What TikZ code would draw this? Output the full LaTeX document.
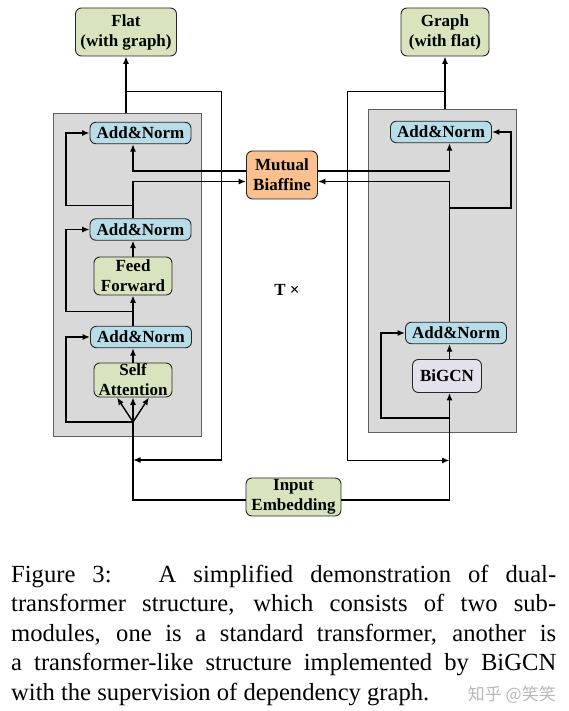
\documentclass[tikz,border=0pt]{standalone}
\usepackage{fontspec}
\setmainfont{Liberation Serif}
\newfontfamily\cjk{Noto Sans CJK SC}
\usetikzlibrary{arrows.meta}
\definecolor{nodegreen}{HTML}{D7E4BD}
\definecolor{nodeblue}{HTML}{B7DEE8}
\definecolor{nodeorange}{HTML}{FAC090}
\definecolor{nodepurple}{HTML}{E6E0EC}
\definecolor{panelgray}{HTML}{D9D9D9}
\definecolor{panelline}{HTML}{5F5F5F}
\begin{document}
\begin{tikzpicture}[x=1pt,y=-1pt,
  box/.style={draw=black!85, line width=0.9pt, rounded corners=6pt, inner sep=0pt, align=center,
    font=\bfseries\fontsize{17pt}{20pt}\selectfont},
  greenbox/.style={box, fill=nodegreen},
  anbox/.style={box, fill=nodeblue, minimum width=101pt, minimum height=21.5pt},
  panel/.style={draw=panelline, line width=1pt, fill=panelgray, inner sep=0pt},
  line/.style={line width=1.4pt, black},
  arr/.style={line, -{Latex[length=7.5pt,width=6pt]}}
]
\useasboundingbox (0,0) rectangle (568,711);

% panels
\node[panel, minimum width=148pt, minimum height=322pt] (lpanel) at (127,275) {};
\node[panel, minimum width=148pt, minimum height=322pt] (rpanel) at (442,271) {};

% outputs
\node[greenbox, minimum width=101pt, minimum height=48pt] (flat) at (126,32) {Flat\\(with graph)};
\node[greenbox, minimum width=88pt, minimum height=48pt] (graph) at (445,32) {Graph\\(with flat)};

% left column
\node[anbox] (an1) at (140.5,133) {Add\&Norm};
\node[anbox] (an2) at (140.5,229.5) {Add\&Norm};
\node[greenbox, minimum width=78pt, minimum height=38pt] (ff) at (133,276) {Feed\\Forward};
\node[anbox] (an3) at (141,337) {Add\&Norm};
\node[greenbox, minimum width=78pt, minimum height=34pt] (sa) at (133,380) {Self\\Attention};

% middle
\node[box, fill=nodeorange, minimum width=71pt, minimum height=48pt] (bia) at (282,175) {Mutual\\Biaffine};
\node[font=\bfseries\fontsize{17pt}{20pt}\selectfont, inner sep=0pt] (tx) at (287,290) {T ×};
\node[greenbox, minimum width=95pt, minimum height=38pt] (emb) at (293.5,497) {Input\\Embedding};

% right column
\node[anbox] (ran1) at (441,132) {Add\&Norm};
\node[anbox] (ran2) at (456,333) {Add\&Norm};
\node[box, fill=nodepurple, minimum width=69pt, minimum height=33pt] (bigcn) at (447,376) {BiGCN};

% helper coordinates
\coordinate (fan) at (133,422);
\coordinate (resL) at (66,0);
\coordinate (r2) at (133,311.5);
\coordinate (r1) at (133,205.5);
\coordinate (loopL) at (221.5,91.5);
\coordinate (loopLb) at (221.5,460);
\coordinate (spineR) at (449.5,0);
\coordinate (resR) at (381,0);
\coordinate (resR2) at (511,0);
\coordinate (r3) at (449.5,418);
\coordinate (r4) at (449.5,208);
\coordinate (loopR) at (347.5,91.5);
\coordinate (loopRb) at (347.5,460.5);

% ---- left connectors
\draw[line] ([yshift=-3pt]emb.west) -| (fan);
\draw[arr] (fan) -- ([xshift=-16pt]sa.south);
\draw[arr] (fan) -- (sa.south);
\draw[arr] (fan) -- ([xshift=16pt]sa.south);
\draw[arr] (fan) -- (fan -| resL) |- (an3.west);
\draw[arr] (sa.north) -- (an3.south -| sa.north);
\draw[arr] (an3.north -| fan) -- (ff.south);
\draw[arr] (r2) -- (r2 -| resL) |- (an2.west);
\draw[arr] (ff.north) -- (an2.south -| ff.north);
\draw[arr] (an2.north -| fan) |- ([yshift=-6.5pt]bia.west);
\draw[arr] (r1) -- (r1 -| resL) |- (an1.west);
\draw[arr] ([yshift=4pt]bia.west) -| (an1.south -| fan);
\draw[arr] (flat.south |- lpanel.north) -- (flat.south);
\draw[arr] (flat.south |- loopL) -- (loopL) -- (loopLb) -- (loopLb -| fan);

% ---- right connectors
\draw[arr] ([yshift=-3pt]emb.east) -| (bigcn.south -| spineR);
\draw[arr] (r3) -- (r3 -| resR) |- (ran2.west);
\draw[arr] (bigcn.north -| spineR) -- (ran2.south -| spineR);
\draw[arr] (ran2.north -| spineR) |- ([yshift=-6.5pt]bia.east);
\draw[arr] (r4) -- (r4 -| resR2) |- (ran1.east);
\draw[arr] ([yshift=4pt]bia.east) -| (ran1.south -| spineR);
\draw[arr] (graph.south |- rpanel.north) -- (graph.south);
\draw[arr] (graph.south |- loopR) -- (loopR) -- (loopRb) -- (loopRb -| spineR);

% caption
\node[anchor=base west, inner sep=0pt] (cap) at (11,582) {\parbox[t]{545pt}{\fontsize{24.6pt}{29.6pt}\selectfont\setlength\parindent{0pt}%
Figure 3: \ A simplified demonstration of dual-\linebreak
transformer structure, which consists of two sub-\linebreak
modules, one is a standard transformer, another is\linebreak
a transformer-like structure implemented by BiGCN\linebreak
with the supervision of dependency graph.}};
\node[anchor=base east, inner sep=0pt, text=black!28, font=\cjk\fontsize{17pt}{17pt}\selectfont] (wm) at (556,700) {知乎 @笑笑};
\end{tikzpicture}
\end{document}
